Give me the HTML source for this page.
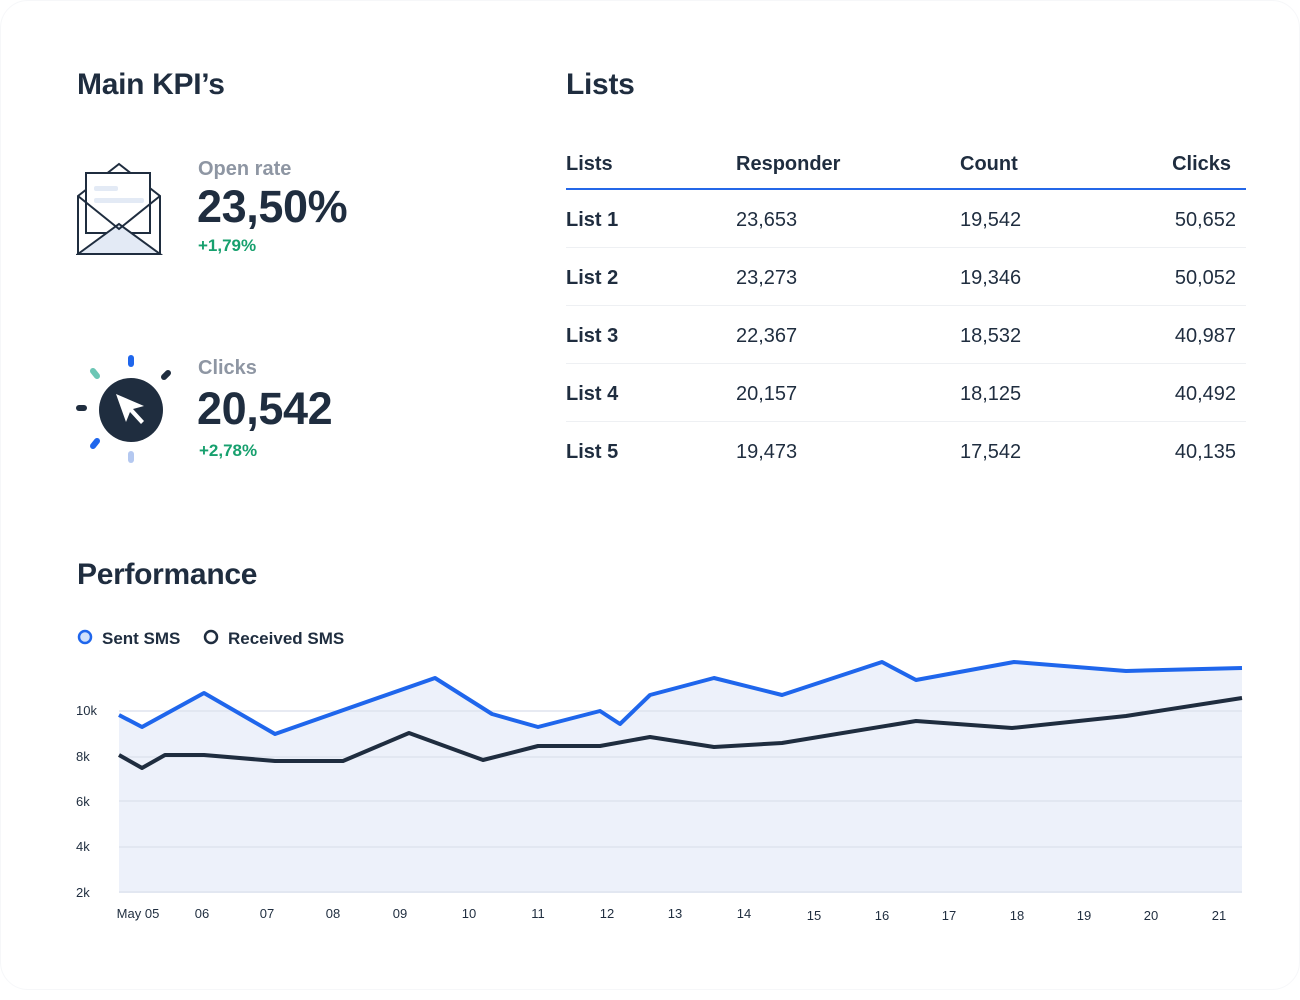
<!DOCTYPE html>
<html><head><meta charset="utf-8"><style>
body{margin:0;width:1300px;height:1000px;background:#fff;font-family:"Liberation Sans",sans-serif;color:#1f2d3f;position:relative;overflow:hidden}
.card{position:absolute;left:0;top:0;width:1298px;height:988px;border:1px solid #f6f7f9;border-radius:28px}
.t{position:absolute;white-space:nowrap}
h2{position:absolute;margin:0;font-size:30px;font-weight:bold;color:#1f2d3f;letter-spacing:-0.3px}
.lbl{font-size:20px;color:#8e96a3;font-weight:bold}
.big{font-size:45px;font-weight:bold;color:#1f2d3f;letter-spacing:-0.4px}
.pct{font-size:17px;font-weight:bold;color:#17a06e}
table{position:absolute;left:566px;top:140px;width:680px;border-collapse:collapse;font-size:20px}
th{text-align:left;font-weight:bold;height:48px;border-bottom:2px solid #2467e8;padding:0}
td{height:54px;border-bottom:1px solid #eef0f3;padding:3px 0 0 0;color:#1f2d3f}
td:first-child{font-weight:bold}
tr:last-child td{border:none}
</style></head><body>
<div class="card"></div>
<h2 style="left:77px;top:68px">Main KPI’s</h2>
<h2 style="left:566px;top:68px">Lists</h2>
<h2 style="left:77px;top:558px">Performance</h2>

<svg style="position:absolute;left:76px;top:162px" width="88" height="96">
<polygon points="2,34 43,2 84,34 84,92 2,92" fill="#fff" stroke="#1f2d3f" stroke-width="2"/>
<rect x="10" y="11" width="64" height="60" fill="#fff" stroke="#1f2d3f" stroke-width="2"/>
<rect x="18" y="24" width="24" height="5" rx="2" fill="#e3eaf5"/><rect x="18" y="36" width="50" height="5" rx="2" fill="#e3eaf5"/>
<polygon points="2,92 43,62 84,92" fill="#e3eaf5" stroke="#1f2d3f" stroke-width="2"/>
<polyline points="2,34 43,67 84,34" fill="none" stroke="#1f2d3f" stroke-width="2"/>
</svg>
<div class="t lbl" style="left:198px;top:158px">Open rate</div>
<div class="t big" style="left:197px;top:181px">23,50%</div>
<div class="t pct" style="left:198px;top:236px">+1,79%</div>

<svg style="position:absolute;left:76px;top:354px" width="100" height="112">
<circle cx="55" cy="56" r="32" fill="#1f2d3f"/>
<polygon points="40,40 68,52 57,55 68,67 65,70 54,58 50,68" fill="#fff"/>
<line x1="55" y1="4" x2="55" y2="10" stroke="#1f66ec" stroke-width="6" stroke-linecap="round"/>
<line x1="55" y1="100" x2="55" y2="106" stroke="#b4c8f0" stroke-width="6" stroke-linecap="round"/>
<line x1="3" y1="54" x2="8" y2="54" stroke="#1f2d3f" stroke-width="6" stroke-linecap="round"/>
<line x1="17" y1="17" x2="21" y2="22" stroke="#6cc6b5" stroke-width="6" stroke-linecap="round"/>
<line x1="88" y1="23" x2="92" y2="19" stroke="#1f2d3f" stroke-width="6" stroke-linecap="round"/>
<line x1="17" y1="92" x2="21" y2="87" stroke="#1f66ec" stroke-width="6" stroke-linecap="round"/>
</svg>
<div class="t lbl" style="left:198px;top:357px">Clicks</div>
<div class="t big" style="left:197px;top:383px">20,542</div>
<div class="t pct" style="left:199px;top:441px">+2,78%</div>

<table>
<tr><th style="width:170px">Lists</th><th style="width:224px">Responder</th><th style="width:200px">Count</th><th style="text-align:right;padding-right:15px">Clicks</th></tr>
<tr><td>List 1</td><td>23,653</td><td>19,542</td><td style="text-align:right;padding-right:10px">50,652</td></tr>
<tr><td>List 2</td><td>23,273</td><td>19,346</td><td style="text-align:right;padding-right:10px">50,052</td></tr>
<tr><td>List 3</td><td>22,367</td><td>18,532</td><td style="text-align:right;padding-right:10px">40,987</td></tr>
<tr><td>List 4</td><td>20,157</td><td>18,125</td><td style="text-align:right;padding-right:10px">40,492</td></tr>
<tr><td>List 5</td><td>19,473</td><td>17,542</td><td style="text-align:right;padding-right:10px">40,135</td></tr>
</table>

<svg style="position:absolute;left:0;top:0" width="1300" height="1000" font-family="Liberation Sans, sans-serif">
<circle cx="85" cy="637" r="6" fill="#cfe0fb" stroke="#1f66ec" stroke-width="2.5"/>
<text x="102" y="644" font-size="17" font-weight="bold" fill="#1f2d3f">Sent SMS</text>
<circle cx="211" cy="637" r="6" fill="#fff" stroke="#1f2d3f" stroke-width="2.5"/>
<text x="228" y="644" font-size="17" font-weight="bold" fill="#1f2d3f">Received SMS</text>
<polygon fill="#edf1fa" points="119,715 142,727 204,693 275,734 435,678 492,714 538,727 600,711 620,724 650,695 714,678 782,695 882,662 916,680 1014,662 1126,671 1242,668 1242,893 119,893"/>
<g stroke="#dfe4ee" stroke-width="1.5"><line x1="119" y1="711" x2="1242" y2="711"/><line x1="119" y1="757" x2="1242" y2="757"/><line x1="119" y1="801" x2="1242" y2="801"/><line x1="119" y1="847" x2="1242" y2="847"/><line x1="119" y1="892" x2="1242" y2="892"/></g>
<polyline fill="none" stroke="#1f66ec" stroke-width="4" stroke-linejoin="round" points="119,715 142,727 204,693 275,734 435,678 492,714 538,727 600,711 620,724 650,695 714,678 782,695 882,662 916,680 1014,662 1126,671 1242,668"/>
<polyline fill="none" stroke="#1f2d3f" stroke-width="4" stroke-linejoin="round" points="119,755 142,768 165,755 204,755 275,761 343,761 409,733 483,760 538,746 600,746 650,737 714,747 782,743 916,721 1012,728 1126,716 1242,698"/>
<g font-size="13" fill="#1f2d3f"><text x="76" y="715">10k</text><text x="76" y="761">8k</text><text x="76" y="806">6k</text><text x="76" y="851">4k</text><text x="76" y="897">2k</text></g>
<g font-size="13" fill="#1f2d3f" text-anchor="middle"><text x="138" y="918">May 05</text><text x="202" y="918">06</text><text x="267" y="918">07</text><text x="333" y="918">08</text><text x="400" y="918">09</text><text x="469" y="918">10</text><text x="538" y="918">11</text><text x="607" y="918">12</text><text x="675" y="918">13</text><text x="744" y="918">14</text><text x="814" y="920">15</text><text x="882" y="920">16</text><text x="949" y="920">17</text><text x="1017" y="920">18</text><text x="1084" y="920">19</text><text x="1151" y="920">20</text><text x="1219" y="920">21</text></g>
</svg>
</body></html>
